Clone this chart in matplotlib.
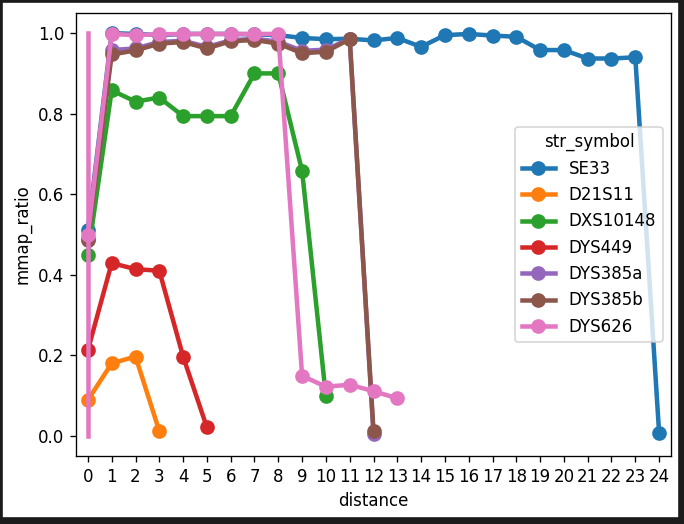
import numpy as np
import matplotlib.pyplot as plt
from matplotlib.patches import Rectangle

# mmap_ratio per distance for each str_symbol
symbols = ['SE33', 'D21S11', 'DXS10148', 'DYS449', 'DYS385a', 'DYS385b', 'DYS626']

se33 = [0.51, 1.0, 0.998, 0.995, 0.998, 0.998, 0.998, 0.997, 0.995, 0.988, 0.985,
        0.986, 0.982, 0.988, 0.966, 0.995, 0.998, 0.994, 0.991, 0.958, 0.958,
        0.937, 0.937, 0.940, 0.008]
d21s11 = [0.089, 0.180, 0.197, 0.012]
dxs10148 = [0.449, 0.858, 0.830, 0.840, 0.794, 0.794, 0.794, 0.900, 0.900, 0.658, 0.098]
dys449 = [0.213, 0.429, 0.414, 0.410, 0.197, 0.021]
dys385a = [0.49, 0.958, 0.962, 0.978, 0.981, 0.966, 0.982, 0.986, 0.979, 0.956,
           0.959, 0.986, 0.004]
dys385b = [0.486, 0.947, 0.957, 0.974, 0.978, 0.962, 0.980, 0.983, 0.974, 0.950,
           0.954, 0.985, 0.012]
dys626 = [0.50, 0.998, 0.995, 0.997, 0.998, 0.998, 0.998, 0.998, 0.998, 0.149,
          0.122, 0.127, 0.111, 0.093]

series = [se33, d21s11, dxs10148, dys449, dys385a, dys385b, dys626]

# confidence interval drawn at distance 0 for DYS626
ci_x = 0
ci_low, ci_high = 0.0, 1.0

colors = plt.rcParams['axes.prop_cycle'].by_key()['color']

fig = plt.figure(figsize=(684 / 120, 524 / 120), dpi=120)
ax = fig.add_axes([76 / 684, 68 / 524, 595 / 684, 443 / 524])

lw = 1.5 * 1.8
for i, (name, vals) in enumerate(zip(symbols, series)):
    x = np.arange(len(vals))
    ax.plot(x, vals, marker='o', color=colors[i], lw=lw,
            markersize=lw * np.sqrt(2 * np.pi), markeredgewidth=lw * 0.75,
            label=name)
    if name == 'DYS626':
        ax.plot([ci_x, ci_x], [ci_low, ci_high], color=colors[i], lw=lw)

ax.set_xlim(-0.5, 24.5)
ax.set_ylim(-0.05, 1.05)
ax.set_xticks(range(25))
ax.set_xlabel('distance')
ax.set_ylabel('mmap_ratio')
ax.legend(title='str_symbol', loc='center right')

# dark screenshot border
fig.patches.append(Rectangle((0, 0), 2 / 684, 1, transform=fig.transFigure,
                             color='#1c1c1c', zorder=10))
fig.patches.append(Rectangle((0, 1 - 2 / 524), 1, 2 / 524, transform=fig.transFigure,
                             color='#1c1c1c', zorder=10))
fig.patches.append(Rectangle((1 - 5 / 684, 0), 5 / 684, 1, transform=fig.transFigure,
                             color='#1c1c1c', zorder=10))
fig.patches.append(Rectangle((0, 0), 1, 6 / 524, transform=fig.transFigure,
                             color='#1c1c1c', zorder=10))

fig.savefig('out.png', dpi=120)
